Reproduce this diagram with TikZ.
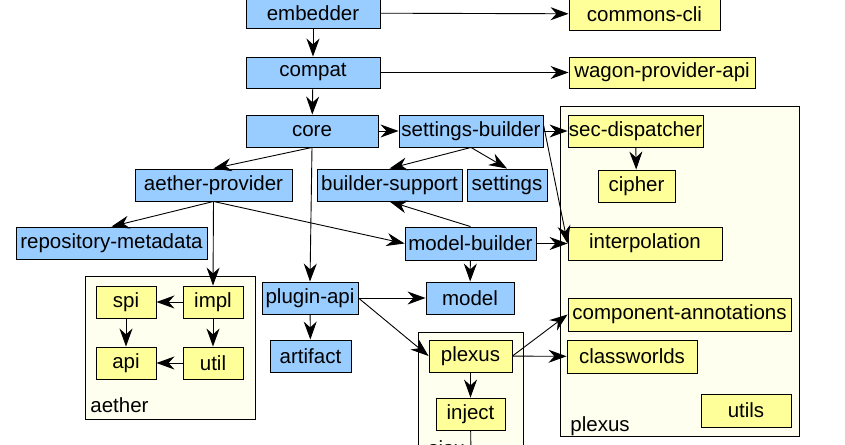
\documentclass[tikz,border=0pt]{standalone}
\usepackage{fontspec}
\setmainfont{Liberation Sans}
\usetikzlibrary{arrows.meta}
\definecolor{bl}{RGB}{153,204,255}
\definecolor{ye}{RGB}{255,255,153}
\definecolor{cr}{RGB}{255,255,240}
\newcommand{\bx}[7]{\node[#7,minimum width={(#4-#2)*1pt},minimum height={(#5-#3)*1pt}] (#1) at ({(#2+#4)/2},{(#3+#5)/2}) {#6};}
\begin{document}
\begin{tikzpicture}[x=1pt,y=-1pt,line width=0.9pt,
  b/.style={draw,fill=bl,inner sep=0pt,font=\fontsize{20.5}{22}\selectfont},
  w/.style={draw,fill=ye,inner sep=0pt,font=\fontsize{20.5}{22}\selectfont},
  grp/.style={draw,fill=cr},
  a/.style={-{Stealth[length=18pt,width=13pt]}},
  lbl/.style={anchor=base west,inner sep=0pt,font=\fontsize{20.5}{22}\selectfont}]
\useasboundingbox (0,0) rectangle (845,444);
\draw[grp] (85,276) rectangle (255,419);
\draw[grp] (418,332) rectangle (523,460);
\draw[grp] (560,106) rectangle (799,436);
\node[lbl] at (90,412) {aether};
\node[lbl] at (428,455) {sisu};
\node[lbl] at (570,431) {plexus};
\bx{embedder}{246}{-2}{380}{28}{embedder}{b}
\bx{commons}{569}{-2}{720}{30}{commons-cli}{w}
\bx{compat}{246}{57}{380}{88}{compat}{b}
\bx{wagon}{569}{57}{755}{88}{wagon-provider-api}{w}
\bx{core}{246}{115}{378}{147}{core}{b}
\bx{sb}{399}{115}{543}{147}{settings-builder}{b}
\bx{ap}{135}{169}{292}{201}{aether-provider}{b}
\bx{bs}{317}{169}{462}{201}{builder-support}{b}
\bx{settings}{467}{169}{547}{201}{settings}{b}
\bx{rm}{16}{227}{207}{259}{repository-metadata}{b}
\bx{mb}{405}{227}{536}{260}{model-builder}{b}
\bx{spi}{96}{286}{156}{318}{spi}{w}
\bx{impl}{183}{286}{243}{318}{impl}{w}
\bx{api}{96}{347}{156}{379}{api}{w}
\bx{util}{183}{347}{243}{379}{util}{w}
\bx{pa}{262}{282}{358}{314}{plugin-api}{b}
\bx{model}{426}{282}{514}{314}{model}{b}
\bx{artifact}{270}{340}{351}{372}{artifact}{b}
\bx{px}{429}{340}{512}{372}{plexus}{w}
\bx{inject}{436}{398}{505}{430}{inject}{w}
\bx{sd}{568}{115}{703}{147}{sec-dispatcher}{w}
\bx{cipher}{598}{170}{675}{202}{cipher}{w}
\bx{interp}{568}{227}{722}{260}{interpolation}{w}
\bx{ca}{568}{298}{791}{331}{component-annotations}{w}
\bx{cw}{567}{340}{697}{373}{classworlds}{w}
\bx{utils}{701}{394}{791}{427}{utils}{w}
\coordinate (sisub) at (471,460);
\draw[a] (embedder) -- (commons);
\draw[a] (embedder) -- (compat);
\draw[a] (compat) -- (wagon);
\draw[a] (compat) -- (core);
\draw[a] (core) -- (sb);
\draw[a] (core.south) -- (ap.north);
\draw[a] (core.south) -- (pa.north);
\draw[a] (sb.south) -- (bs.north);
\draw[a] (sb.south) -- (settings.north);
\draw[a] (sb) -- (sd);
\draw[a] (sb.north east) ++(0,10) -- (interp.west);
\draw[a] (sd) -- (cipher);
\draw[a] (ap.south) -- (rm.north);
\draw[a] (ap.south) -- (impl.north);
\draw[a] (ap.south) -- (mb.west);
\draw[a] (mb.north) -- (bs.south);
\draw[a] (mb) -- (interp);
\draw[a] (mb) -- (model);
\draw[a] (impl) -- (spi);
\draw[a] (impl) -- (util);
\draw[a] (spi) -- (api);
\draw[a] (util) -- (api);
\draw[a] (pa) -- (model);
\draw[a] (pa) -- (artifact);
\draw[a] (pa.east) -- (px.west);
\draw[a] (px.east) -- (ca.west);
\draw[a] (px) -- (cw);
\draw[a] (px) -- (inject);
\draw (inject) -- (sisub);
\end{tikzpicture}
\end{document}
